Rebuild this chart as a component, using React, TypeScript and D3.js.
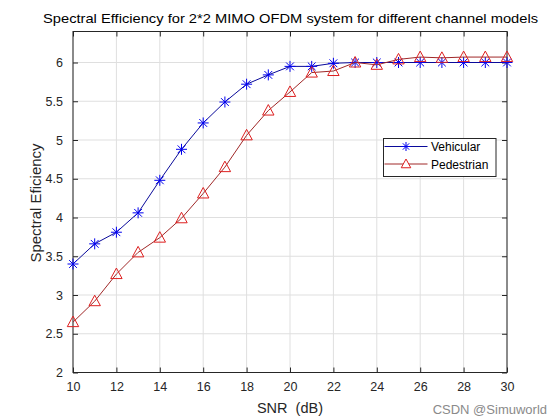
import { useEffect, useRef } from "react"
import * as d3 from "d3"

const snr = [10, 11, 12, 13, 14, 15, 16, 17, 18, 19, 20, 21, 22, 23, 24, 25, 26, 27, 28, 29, 30]
const vehicular = [3.4, 3.66, 3.81, 4.06, 4.48, 4.88, 5.22, 5.49, 5.72, 5.84, 5.95, 5.95, 5.99, 6.0, 6.0, 6.0, 6.0, 6.0, 6.0, 6.0, 6.0]
const pedestrian = [2.65, 2.92, 3.27, 3.55, 3.74, 3.99, 4.31, 4.65, 5.06, 5.38, 5.62, 5.87, 5.89, 6.0, 5.97, 6.04, 6.07, 6.06, 6.07, 6.07, 6.07]
const xTicks = [10, 12, 14, 16, 18, 20, 22, 24, 26, 28, 30]
const yTicks = [2, 2.5, 3, 3.5, 4, 4.5, 5, 5.5, 6]
const seriesNames = ["Vehicular", "Pedestrian"]

export default function App() {
  const svgRef = useRef<SVGSVGElement>(null)

  useEffect(() => {
    if (!svgRef.current) return
    const width = 560
    const height = 420
    const margin = { top: 31.5, right: 53, bottom: 47.5, left: 73 }
    const innerWidth = width - margin.left - margin.right
    const innerHeight = height - margin.top - margin.bottom
    const font = "'Liberation Sans', Arial, sans-serif"
    const axisColor = "#262626"

    const svg = d3.select(svgRef.current).attr("width", width).attr("height", height)
    svg.selectAll("*").remove()

    svg.append("rect").attr("width", width).attr("height", height).attr("fill", "#ffffff")

    const g = svg.append("g").attr("transform", `translate(${margin.left},${margin.top})`)

    const x = d3.scaleLinear().domain([10, 30]).range([0, innerWidth])
    const y = d3.scaleLinear().domain([2, 6.4]).range([innerHeight, 0])

    // grid
    g.selectAll(".vgrid")
      .data(xTicks)
      .enter()
      .append("line")
      .attr("x1", (d) => x(d))
      .attr("x2", (d) => x(d))
      .attr("y1", 0)
      .attr("y2", innerHeight)
      .attr("stroke", "#dfdfdf")
      .attr("stroke-width", 1)
    g.selectAll(".hgrid")
      .data(yTicks)
      .enter()
      .append("line")
      .attr("x1", 0)
      .attr("x2", innerWidth)
      .attr("y1", (d) => y(d))
      .attr("y2", (d) => y(d))
      .attr("stroke", "#dfdfdf")
      .attr("stroke-width", 1)

    // axes (ticks inward, box on)
    const styleAxis = (sel: d3.Selection<SVGGElement, unknown, null, undefined>) => {
      sel.select(".domain").remove()
      sel.selectAll("line").attr("stroke", axisColor)
      sel.selectAll("text").attr("fill", axisColor).attr("font-family", font).attr("font-size", "12.5px")
    }

    g.append("g")
      .attr("transform", `translate(0,${innerHeight})`)
      .call(d3.axisBottom(x).tickValues(xTicks).tickSizeInner(-5).tickPadding(10).tickFormat(d3.format("d")))
      .call(styleAxis)
    g.append("g")
      .call(d3.axisTop(x).tickValues(xTicks).tickSizeInner(-5).tickFormat(() => ""))
      .call(styleAxis)
    g.append("g")
      .call(d3.axisLeft(y).tickValues(yTicks).tickSizeInner(-5).tickPadding(10).tickFormat((d) => String(d)))
      .call(styleAxis)
    g.append("g")
      .attr("transform", `translate(${innerWidth},0)`)
      .call(d3.axisRight(y).tickValues(yTicks).tickSizeInner(-5).tickFormat(() => ""))
      .call(styleAxis)

    g.append("rect")
      .attr("width", innerWidth)
      .attr("height", innerHeight)
      .attr("fill", "none")
      .attr("stroke", axisColor)
      .attr("stroke-width", 1)

    const line = d3
      .line<number>()
      .x((_, i) => x(snr[i]))
      .y((d) => y(d))

    const starPath = (s: number) => {
      const d = s * 0.707
      return `M${-s},0L${s},0M0,${-s}L0,${s}M${-d},${-d}L${d},${d}M${-d},${d}L${d},${-d}`
    }
    const triPath = (s: number) => `M0,${-s}L${s * 0.95},${s * 0.75}L${-s * 0.95},${s * 0.75}Z`

    // Vehicular
    g.append("path")
      .datum(vehicular)
      .attr("d", line)
      .attr("fill", "none")
      .attr("stroke", "#0a0a9a")
      .attr("stroke-width", 1)
    g.selectAll(".veh")
      .data(vehicular)
      .enter()
      .append("path")
      .attr("transform", (d, i) => `translate(${x(snr[i])},${y(d)})`)
      .attr("d", starPath(5.5))
      .attr("stroke", "#0000ee")
      .attr("stroke-width", 1)
      .attr("fill", "none")

    // Pedestrian
    g.append("path")
      .datum(pedestrian)
      .attr("d", line)
      .attr("fill", "none")
      .attr("stroke", "#a02828")
      .attr("stroke-width", 1)
    g.selectAll(".ped")
      .data(pedestrian)
      .enter()
      .append("path")
      .attr("transform", (d, i) => `translate(${x(snr[i])},${y(d)})`)
      .attr("d", triPath(6))
      .attr("stroke", "#dd2020")
      .attr("stroke-width", 1)
      .attr("fill", "none")

    // legend
    const lg = g.append("g").attr("transform", `translate(${383.5 - margin.left},${138.5 - margin.top})`)
    lg.append("rect")
      .attr("width", 112.5)
      .attr("height", 38)
      .attr("fill", "#ffffff")
      .attr("stroke", axisColor)
      .attr("stroke-width", 1)
    seriesNames.forEach((name, i) => {
      const cy = 8 + i * 17.5
      lg.append("line")
        .attr("x1", 1)
        .attr("x2", 44)
        .attr("y1", cy)
        .attr("y2", cy)
        .attr("stroke", i === 0 ? "#0a0a9a" : "#a02828")
        .attr("stroke-width", 1)
      lg.append("path")
        .attr("transform", `translate(22.5,${cy})`)
        .attr("d", i === 0 ? starPath(4.5) : triPath(5))
        .attr("stroke", i === 0 ? "#0000ee" : "#dd2020")
        .attr("fill", i === 0 ? "none" : "#ffffff")
        .attr("stroke-width", 1)
      lg.append("text")
        .attr("x", 47.5)
        .attr("y", cy + 4.5)
        .attr("font-family", font)
        .attr("font-size", "12px")
        .attr("fill", "#000000")
        .text(name)
    })

    // title and labels
    svg.append("text")
      .attr("x", 43)
      .attr("y", 22.5)
      .attr("font-family", font)
      .attr("font-size", "13.5px")
      .attr("fill", "#000000")
      .attr("textLength", 495)
      .attr("lengthAdjust", "spacingAndGlyphs")
      .text("Spectral Efficiency for 2*2 MIMO OFDM system for different channel models")
    svg.append("text")
      .attr("x", 290)
      .attr("y", 413)
      .attr("text-anchor", "middle")
      .attr("font-family", font)
      .attr("font-size", "14.5px")
      .attr("fill", axisColor)
      .attr("xml:space", "preserve")
      .style("white-space", "pre")
      .text("SNR  (dB)")
    svg.append("text")
      .attr("transform", `translate(41,203) rotate(-90)`)
      .attr("text-anchor", "middle")
      .attr("font-family", font)
      .attr("font-size", "15px")
      .attr("fill", axisColor)
      .text("Spectral Eficiency")
    svg.append("text")
      .attr("x", 547)
      .attr("y", 414)
      .attr("text-anchor", "end")
      .attr("font-family", font)
      .attr("font-size", "13px")
      .attr("fill", "#8a8a8a")
      .text("CSDN @Simuworld")
  }, [])

  return <svg ref={svgRef} style={{ position: "absolute", left: 0, top: 0, display: "block" }} />
}
